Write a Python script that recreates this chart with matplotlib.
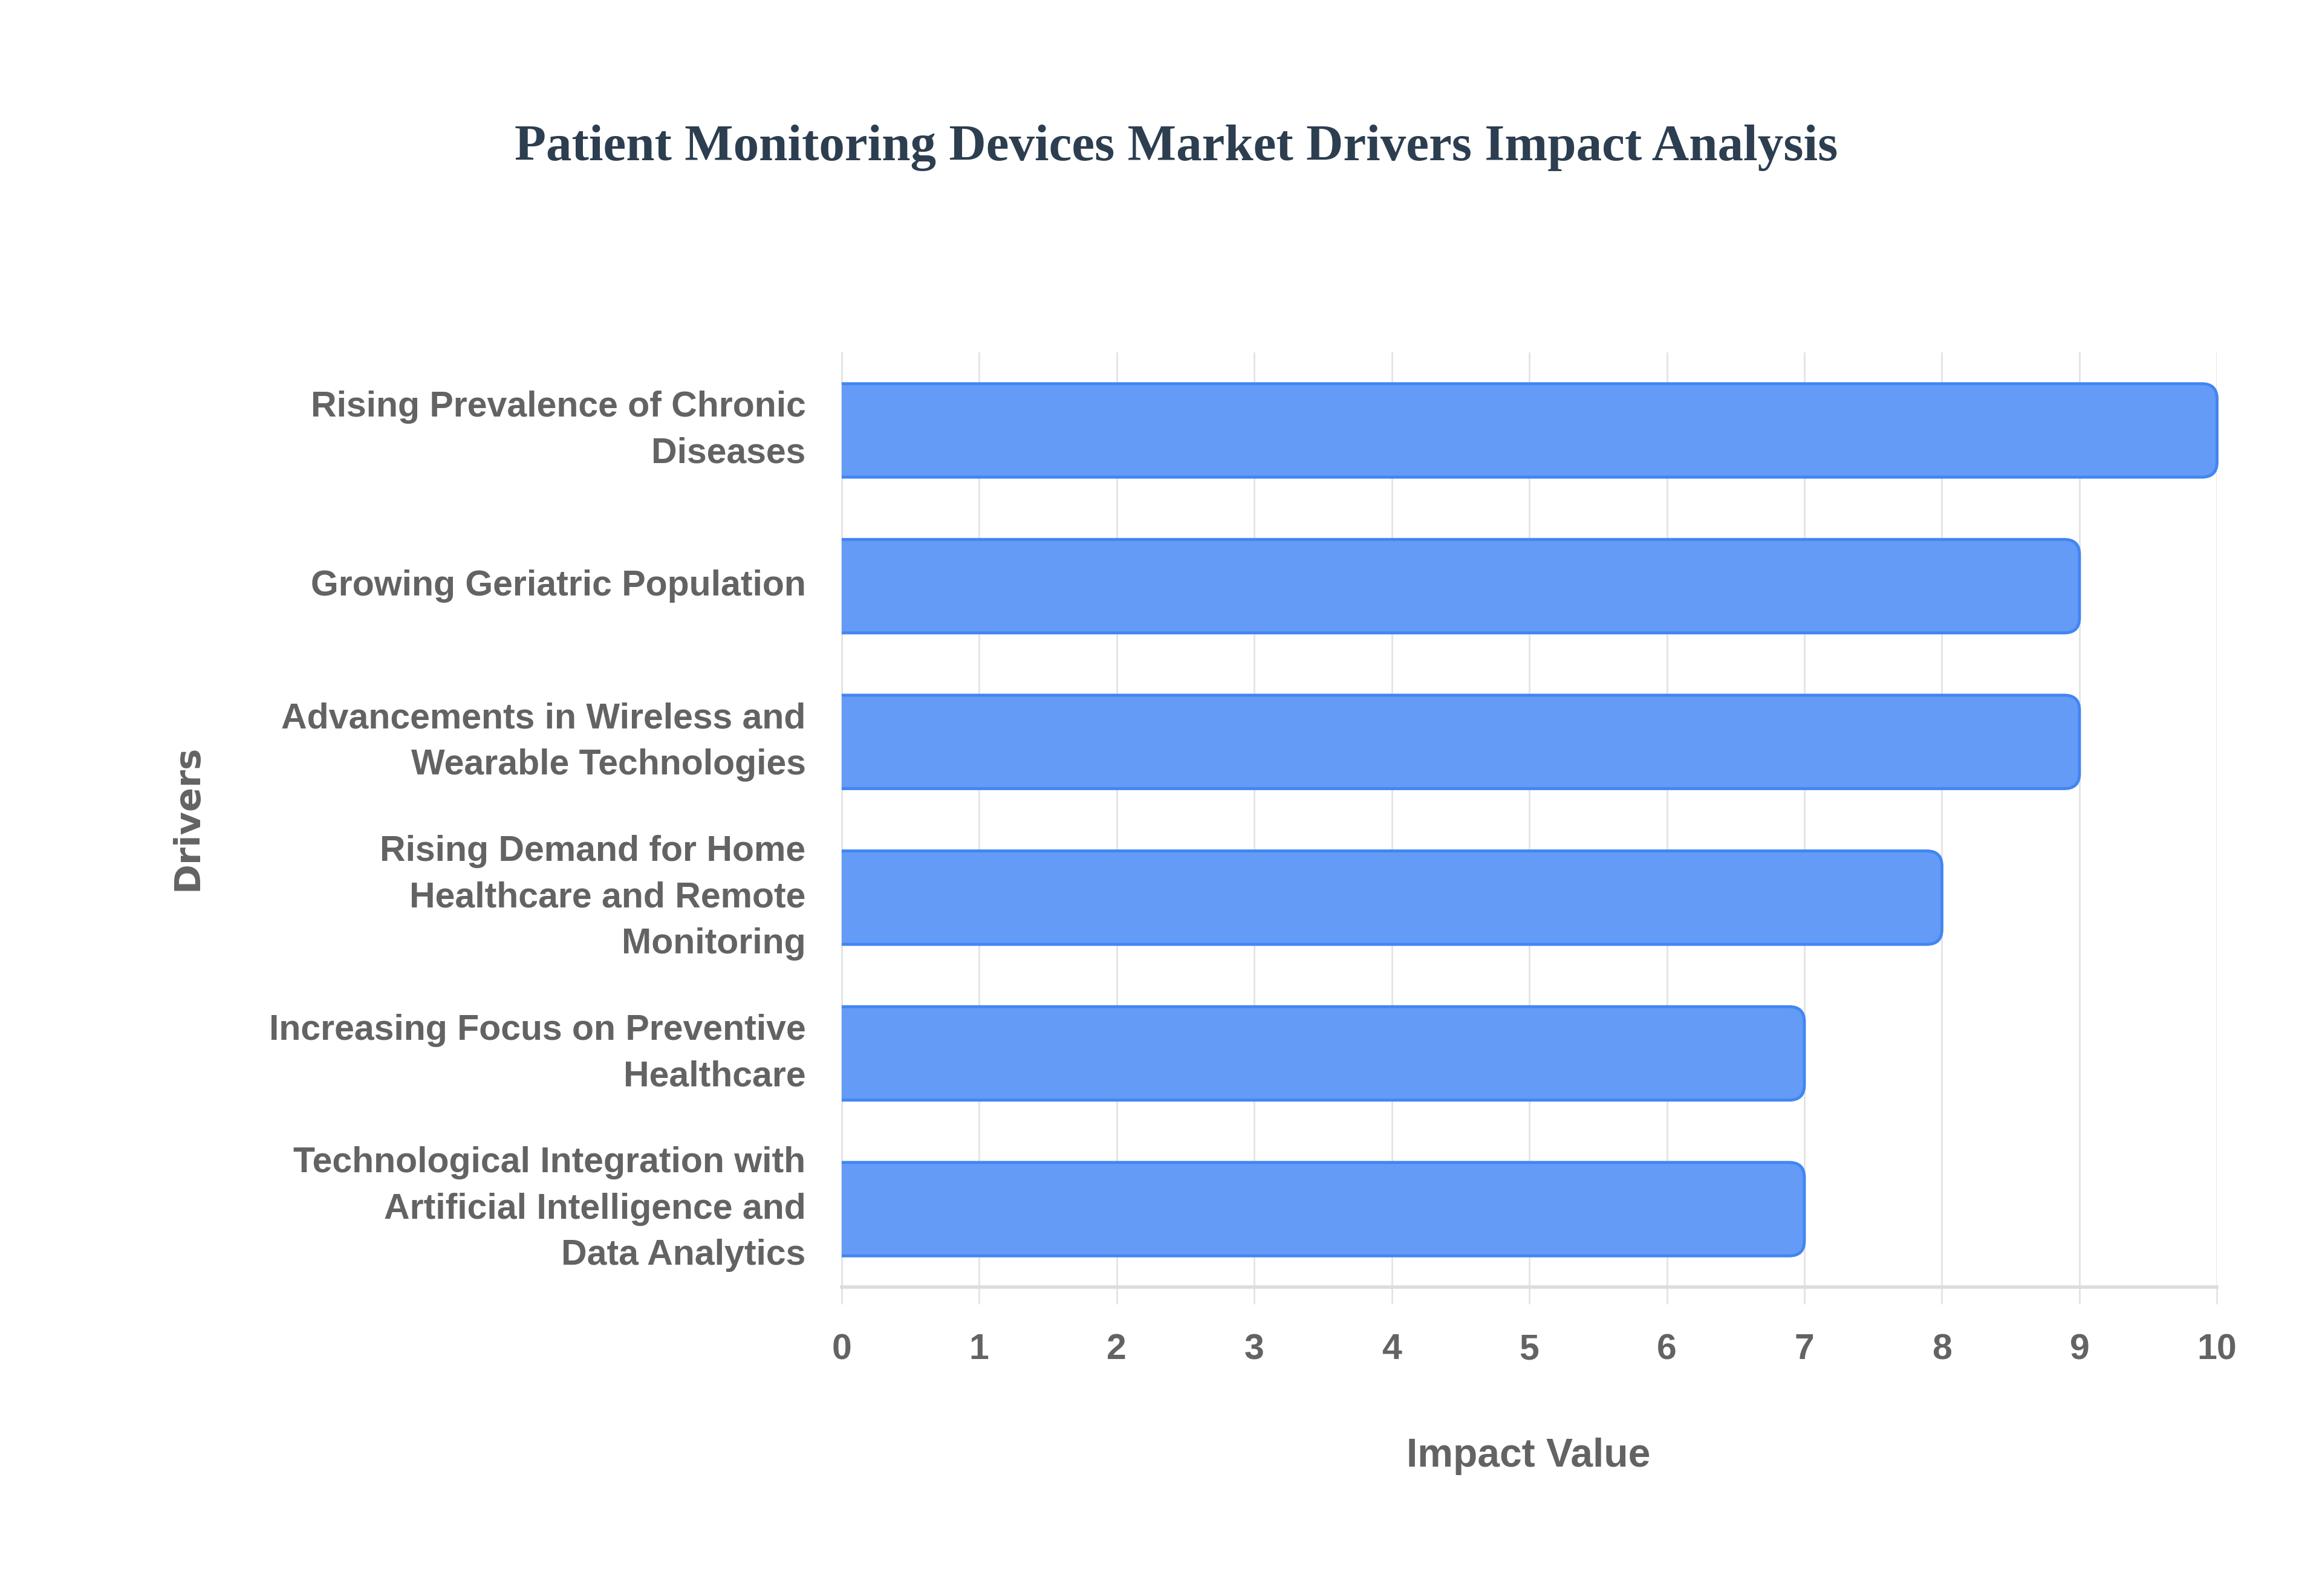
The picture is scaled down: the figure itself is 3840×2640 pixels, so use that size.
import matplotlib.pyplot as plt
from matplotlib.patches import FancyBboxPatch, Rectangle

# Daten
treiber = [
    "Rising Prevalence of Chronic\nDiseases",
    "Growing Geriatric Population",
    "Advancements in Wireless and\nWearable Technologies",
    "Rising Demand for Home\nHealthcare and Remote\nMonitoring",
    "Increasing Focus on Preventive\nHealthcare",
    "Technological Integration with\nArtificial Intelligence and\nData Analytics",
]
werte = [10, 9, 9, 8, 7, 7]
x_ticks = [0, 1, 2, 3, 4, 5, 6, 7, 8, 9, 10]

grau = '#636363'
gitter = '#e3e3e3'

fig = plt.figure(figsize=(15.36, 10.56), dpi=250)
ax = fig.add_axes([0.3624, 0.1936, 0.9548 - 0.3624, 0.7791 - 0.1936])

positionen = list(range(len(treiber)))
balken = ax.barh(positionen, werte, height=0.6, color='#4285F4', alpha=0)

# Balken mit abgerundetem Ende neu zeichnen
clip = Rectangle((0, -1), 11, len(treiber) + 2, transform=ax.transData)
for rect in balken:
    r = 0.11
    patch = FancyBboxPatch((rect.get_x() - r, rect.get_y()),
                           rect.get_width() + r, rect.get_height(),
                           boxstyle=f"round,pad=0,rounding_size={r}",
                           mutation_aspect=0.88,
                           facecolor='#649BF6', edgecolor='#4285F4',
                           linewidth=1.4, zorder=3)
    ax.add_patch(patch)
    patch.set_clip_path(clip)

ax.set_xlim(0, 10)
ax.set_ylim(len(treiber) - 0.5, -0.5)
ax.set_yticks(positionen)
ax.set_yticklabels(treiber, fontfamily='Liberation Sans', fontweight='bold',
                   fontsize=17, color=grau, linespacing=1.5, va='center')
ax.set_xticks(x_ticks)
ax.set_xticklabels([str(t) for t in x_ticks], fontfamily='Liberation Sans',
                   fontweight='bold', fontsize=17, color=grau)

ax.tick_params(axis='y', length=0, pad=17)
ax.tick_params(axis='x', length=8, width=0.8, color=gitter, pad=14)

ax.grid(axis='x', color=gitter, linewidth=0.8, zorder=0)
ax.set_axisbelow(True)
for s in ['top', 'right']:
    ax.spines[s].set_visible(False)
ax.spines['left'].set_color(gitter)
ax.spines['left'].set_linewidth(0.8)
ax.spines['bottom'].set_color('#dcdcdc')
ax.spines['bottom'].set_linewidth(1.6)

fig.text(0.5065, 0.9075, 'Patient Monitoring Devices Market Drivers Impact Analysis',
         ha='center', va='center', fontfamily='Liberation Serif',
         fontweight='bold', fontsize=24.5, color='#2c3e50')
fig.text(0.6583, 0.0875, 'Impact Value', ha='center', va='center',
         fontfamily='Liberation Sans', fontweight='bold', fontsize=19, color=grau)
fig.text(0.0807, 0.4878, 'Drivers', ha='center', va='center', rotation=90,
         fontfamily='DejaVu Sans', fontweight='bold', fontsize=17, color=grau)

fig.savefig('out.png', dpi=250, facecolor='white')
